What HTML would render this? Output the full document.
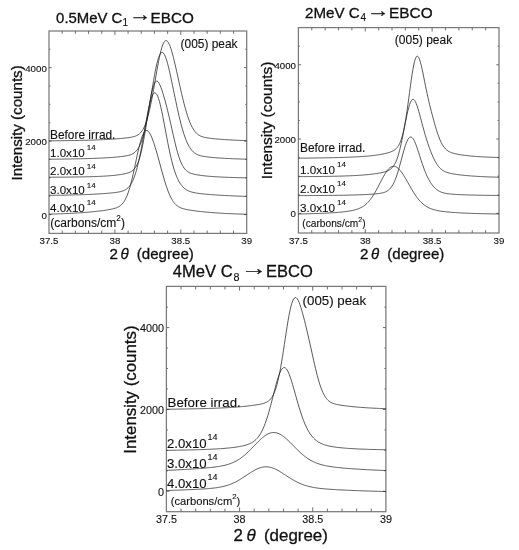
<!DOCTYPE html>
<html><head><meta charset="utf-8"><title>XRD (005) peak</title>
<style>
html,body{margin:0;padding:0;background:#fff;}
body{width:519px;height:550px;overflow:hidden;}
svg{display:block;font-family:"Liberation Sans",sans-serif;fill:#111;}
text{stroke:#111;stroke-width:0.12;}
.b{stroke-width:0.3;}
.f{fill:none;stroke:#7a7a7a;stroke-width:1.25;}
.t{fill:none;stroke:#666;stroke-width:0.95;}
.ar{stroke:#111;stroke-width:0.25;}
.c{fill:none;stroke:#222;stroke-width:0.75;stroke-linejoin:round;}
</style></head><body>
<svg width="519" height="550" viewBox="0 0 519 550">
<rect width="519" height="550" fill="#fff"/>
<rect class="f" x="49.00" y="31.00" width="197.70" height="202.40"/>
<path class="t" d="M62.18 233.40v-2.80M62.18 31.00v2.80M75.36 233.40v-2.80M75.36 31.00v2.80M88.54 233.40v-2.80M88.54 31.00v2.80M101.72 233.40v-2.80M101.72 31.00v2.80M114.90 233.40v-3.90M114.90 31.00v3.90M128.08 233.40v-2.80M128.08 31.00v2.80M141.26 233.40v-2.80M141.26 31.00v2.80M154.44 233.40v-2.80M154.44 31.00v2.80M167.62 233.40v-2.80M167.62 31.00v2.80M180.80 233.40v-3.90M180.80 31.00v3.90M193.98 233.40v-2.80M193.98 31.00v2.80M207.16 233.40v-2.80M207.16 31.00v2.80M220.34 233.40v-2.80M220.34 31.00v2.80M233.52 233.40v-2.80M233.52 31.00v2.80M49.00 214.60h2.70M246.70 214.60h-2.70M49.00 196.22h1.40M246.70 196.22h-1.40M49.00 177.85h1.40M246.70 177.85h-1.40M49.00 159.47h1.40M246.70 159.47h-1.40M49.00 141.10h2.70M246.70 141.10h-2.70M49.00 122.72h1.40M246.70 122.72h-1.40M49.00 104.35h1.40M246.70 104.35h-1.40M49.00 85.97h1.40M246.70 85.97h-1.40M49.00 67.60h2.70M246.70 67.60h-2.70M49.00 49.22h1.40M246.70 49.22h-1.40"/>
<polyline class="c" points="49.00,140.84 49.82,140.83 50.65,140.82 51.47,140.82 52.30,140.81 53.12,140.80 53.94,140.79 54.77,140.79 55.59,140.78 56.41,140.77 57.24,140.76 58.06,140.75 58.88,140.74 59.71,140.73 60.53,140.72 61.36,140.72 62.18,140.71 63.00,140.70 63.83,140.68 64.65,140.67 65.47,140.66 66.30,140.65 67.12,140.64 67.95,140.63 68.77,140.62 69.59,140.60 70.42,140.59 71.24,140.58 72.06,140.56 72.89,140.55 73.71,140.54 74.54,140.52 75.36,140.51 76.18,140.49 77.01,140.48 77.83,140.46 78.66,140.44 79.48,140.43 80.30,140.41 81.13,140.39 81.95,140.37 82.77,140.35 83.60,140.33 84.42,140.31 85.25,140.29 86.07,140.27 86.89,140.25 87.72,140.23 88.54,140.20 89.36,140.18 90.19,140.15 91.01,140.13 91.84,140.10 92.66,140.08 93.48,140.05 94.31,140.02 95.13,139.99 95.95,139.96 96.78,139.93 97.60,139.90 98.42,139.87 99.25,139.84 100.07,139.80 100.90,139.77 101.72,139.73 102.54,139.69 103.37,139.65 104.19,139.61 105.01,139.57 105.84,139.53 106.66,139.49 107.49,139.44 108.31,139.40 109.13,139.35 109.96,139.30 110.78,139.25 111.60,139.20 112.43,139.14 113.25,139.09 114.08,139.03 114.90,138.97 115.72,138.91 116.55,138.85 117.37,138.79 118.19,138.72 119.02,138.65 119.84,138.58 120.67,138.51 121.49,138.43 122.31,138.36 123.14,138.28 123.96,138.19 124.78,138.11 125.61,138.01 126.43,137.92 127.26,137.82 128.08,137.71 128.90,137.60 129.73,137.48 130.55,137.34 131.38,137.20 132.20,137.03 133.02,136.85 133.85,136.63 134.67,136.39 135.49,136.10 136.32,135.76 137.14,135.36 137.96,134.89 138.79,134.32 139.61,133.65 140.44,132.86 141.26,131.93 142.08,130.83 142.91,129.55 143.73,128.06 144.56,126.34 145.38,124.38 146.20,122.14 147.03,119.63 147.85,116.82 148.67,113.72 149.50,110.31 150.32,106.62 151.14,102.66 151.97,98.45 152.79,94.03 153.62,89.44 154.44,84.73 155.26,79.96 156.09,75.18 156.91,70.48 157.73,65.91 158.56,61.54 159.38,57.46 160.21,53.70 161.03,50.35 161.85,47.44 162.68,45.01 163.50,43.10 164.32,41.71 165.15,40.87 165.97,40.57 166.80,40.78 167.62,41.49 168.44,42.68 169.27,44.29 170.09,46.30 170.91,48.66 171.74,51.33 172.56,54.26 173.39,57.41 174.21,60.75 175.03,64.22 175.86,67.81 176.68,71.47 177.50,75.18 178.33,78.91 179.15,82.64 179.98,86.35 180.80,90.00 181.62,93.59 182.45,97.08 183.27,100.48 184.09,103.75 184.92,106.89 185.74,109.88 186.57,112.70 187.39,115.36 188.21,117.84 189.04,120.14 189.86,122.26 190.69,124.19 191.51,125.95 192.33,127.54 193.16,128.96 193.98,130.22 194.80,131.34 195.63,132.32 196.45,133.18 197.28,133.92 198.10,134.57 198.92,135.13 199.75,135.61 200.57,136.02 201.39,136.38 202.22,136.68 203.04,136.95 203.86,137.18 204.69,137.39 205.51,137.56 206.34,137.72 207.16,137.87 207.98,138.00 208.81,138.12 209.63,138.23 210.45,138.33 211.28,138.43 212.10,138.52 212.93,138.61 213.75,138.70 214.57,138.78 215.40,138.86 216.22,138.93 217.04,139.01 217.87,139.08 218.69,139.15 219.52,139.21 220.34,139.28 221.16,139.34 221.99,139.40 222.81,139.46 223.63,139.52 224.46,139.58 225.28,139.63 226.11,139.69 226.93,139.74 227.75,139.79 228.58,139.84 229.40,139.89 230.22,139.93 231.05,139.98 231.87,140.02 232.70,140.07 233.52,140.11 234.34,140.15 235.17,140.19 235.99,140.23 236.81,140.27 237.64,140.30 238.46,140.34 239.29,140.37 240.11,140.41 240.93,140.44 241.76,140.47 242.58,140.51 243.41,140.54 244.23,140.57 245.05,140.60 245.88,140.63 246.70,140.66"/>
<polyline class="c" points="49.00,159.20 49.82,159.19 50.65,159.19 51.47,159.18 52.30,159.17 53.12,159.16 53.94,159.16 54.77,159.15 55.59,159.14 56.41,159.13 57.24,159.12 58.06,159.12 58.88,159.11 59.71,159.10 60.53,159.09 61.36,159.08 62.18,159.07 63.00,159.06 63.83,159.05 64.65,159.04 65.47,159.03 66.30,159.02 67.12,159.01 67.95,158.99 68.77,158.98 69.59,158.97 70.42,158.96 71.24,158.94 72.06,158.93 72.89,158.92 73.71,158.90 74.54,158.89 75.36,158.87 76.18,158.86 77.01,158.84 77.83,158.82 78.66,158.81 79.48,158.79 80.30,158.77 81.13,158.75 81.95,158.73 82.77,158.71 83.60,158.69 84.42,158.67 85.25,158.65 86.07,158.63 86.89,158.61 87.72,158.58 88.54,158.56 89.36,158.53 90.19,158.51 91.01,158.48 91.84,158.45 92.66,158.43 93.48,158.40 94.31,158.37 95.13,158.34 95.95,158.30 96.78,158.27 97.60,158.24 98.42,158.20 99.25,158.17 100.07,158.13 100.90,158.09 101.72,158.05 102.54,158.01 103.37,157.97 104.19,157.92 105.01,157.88 105.84,157.83 106.66,157.78 107.49,157.73 108.31,157.68 109.13,157.62 109.96,157.57 110.78,157.51 111.60,157.45 112.43,157.39 113.25,157.33 114.08,157.26 114.90,157.19 115.72,157.12 116.55,157.05 117.37,156.97 118.19,156.89 119.02,156.81 119.84,156.72 120.67,156.63 121.49,156.53 122.31,156.43 123.14,156.32 123.96,156.21 124.78,156.09 125.61,155.95 126.43,155.81 127.26,155.64 128.08,155.46 128.90,155.25 129.73,155.02 130.55,154.74 131.38,154.42 132.20,154.05 133.02,153.61 133.85,153.09 134.67,152.48 135.49,151.76 136.32,150.91 137.14,149.91 137.96,148.73 138.79,147.37 139.61,145.79 140.44,143.98 141.26,141.91 142.08,139.56 142.91,136.93 143.73,133.99 144.56,130.74 145.38,127.18 146.20,123.32 147.03,119.18 147.85,114.77 148.67,110.14 149.50,105.32 150.32,100.36 151.14,95.32 151.97,90.27 152.79,85.27 153.62,80.40 154.44,75.72 155.26,71.31 156.09,67.24 156.91,63.57 157.73,60.36 158.56,57.66 159.38,55.49 160.21,53.89 161.03,52.87 161.85,52.43 162.68,52.55 163.50,53.23 164.32,54.44 165.15,56.12 165.97,58.25 166.80,60.78 167.62,63.66 168.44,66.83 169.27,70.26 170.09,73.88 170.91,77.66 171.74,81.55 172.56,85.52 173.39,89.53 174.21,93.55 175.03,97.54 175.86,101.49 176.68,105.38 177.50,109.17 178.33,112.85 179.15,116.42 179.98,119.84 180.80,123.12 181.62,126.24 182.45,129.19 183.27,131.96 184.09,134.55 184.92,136.96 185.74,139.19 186.57,141.23 187.39,143.10 188.21,144.79 189.04,146.31 189.86,147.68 190.69,148.89 191.51,149.97 192.33,150.92 193.16,151.75 193.98,152.48 194.80,153.11 195.63,153.66 196.45,154.14 197.28,154.55 198.10,154.90 198.92,155.21 199.75,155.48 200.57,155.72 201.39,155.93 202.22,156.11 203.04,156.28 203.86,156.43 204.69,156.56 205.51,156.68 206.34,156.80 207.16,156.90 207.98,157.00 208.81,157.10 209.63,157.18 210.45,157.27 211.28,157.35 212.10,157.43 212.93,157.50 213.75,157.57 214.57,157.64 215.40,157.71 216.22,157.77 217.04,157.84 217.87,157.90 218.69,157.96 219.52,158.01 220.34,158.07 221.16,158.12 221.99,158.17 222.81,158.22 223.63,158.27 224.46,158.32 225.28,158.36 226.11,158.41 226.93,158.45 227.75,158.49 228.58,158.53 229.40,158.57 230.22,158.61 231.05,158.65 231.87,158.69 232.70,158.72 233.52,158.76 234.34,158.79 235.17,158.82 235.99,158.85 236.81,158.88 237.64,158.91 238.46,158.94 239.29,158.97 240.11,159.00 240.93,159.03 241.76,159.05 242.58,159.08 243.41,159.11 244.23,159.13 245.05,159.15 245.88,159.18 246.70,159.20"/>
<polyline class="c" points="49.00,177.22 49.82,177.21 50.65,177.21 51.47,177.21 52.30,177.20 53.12,177.20 53.94,177.20 54.77,177.19 55.59,177.19 56.41,177.18 57.24,177.18 58.06,177.17 58.88,177.17 59.71,177.16 60.53,177.15 61.36,177.15 62.18,177.14 63.00,177.14 63.83,177.13 64.65,177.12 65.47,177.11 66.30,177.11 67.12,177.10 67.95,177.09 68.77,177.08 69.59,177.07 70.42,177.06 71.24,177.05 72.06,177.04 72.89,177.03 73.71,177.02 74.54,177.01 75.36,177.00 76.18,176.99 77.01,176.98 77.83,176.96 78.66,176.95 79.48,176.94 80.30,176.92 81.13,176.91 81.95,176.89 82.77,176.87 83.60,176.86 84.42,176.84 85.25,176.82 86.07,176.80 86.89,176.78 87.72,176.76 88.54,176.74 89.36,176.72 90.19,176.70 91.01,176.67 91.84,176.65 92.66,176.62 93.48,176.59 94.31,176.57 95.13,176.54 95.95,176.51 96.78,176.47 97.60,176.44 98.42,176.41 99.25,176.37 100.07,176.33 100.90,176.29 101.72,176.25 102.54,176.21 103.37,176.17 104.19,176.12 105.01,176.07 105.84,176.02 106.66,175.97 107.49,175.91 108.31,175.85 109.13,175.79 109.96,175.73 110.78,175.66 111.60,175.59 112.43,175.52 113.25,175.44 114.08,175.36 114.90,175.27 115.72,175.19 116.55,175.09 117.37,174.99 118.19,174.89 119.02,174.78 119.84,174.66 120.67,174.54 121.49,174.41 122.31,174.27 123.14,174.12 123.96,173.96 124.78,173.79 125.61,173.60 126.43,173.39 127.26,173.16 128.08,172.90 128.90,172.61 129.73,172.27 130.55,171.88 131.38,171.41 132.20,170.87 133.02,170.21 133.85,169.43 134.67,168.50 135.49,167.38 136.32,166.05 137.14,164.48 137.96,162.62 138.79,160.45 139.61,157.94 140.44,155.07 141.26,151.82 142.08,148.18 142.91,144.17 143.73,139.79 144.56,135.10 145.38,130.15 146.20,124.99 147.03,119.72 147.85,114.43 148.67,109.22 149.50,104.20 150.32,99.48 151.14,95.15 151.97,91.31 152.79,88.02 153.62,85.35 154.44,83.32 155.26,81.94 156.09,81.20 156.91,81.07 157.73,81.51 158.56,82.45 159.38,83.83 160.21,85.59 161.03,87.65 161.85,89.98 162.68,92.50 163.50,95.20 164.32,98.04 165.15,101.00 165.97,104.08 166.80,107.27 167.62,110.56 168.44,113.96 169.27,117.46 170.09,121.03 170.91,124.67 171.74,128.34 172.56,132.03 173.39,135.68 174.21,139.28 175.03,142.77 175.86,146.12 176.68,149.31 177.50,152.30 178.33,155.08 179.15,157.62 179.98,159.93 180.80,162.00 181.62,163.84 182.45,165.46 183.27,166.87 184.09,168.08 184.92,169.13 185.74,170.02 186.57,170.78 187.39,171.43 188.21,171.98 189.04,172.45 189.86,172.85 190.69,173.19 191.51,173.49 192.33,173.75 193.16,173.98 193.98,174.19 194.80,174.38 195.63,174.55 196.45,174.71 197.28,174.86 198.10,174.99 198.92,175.12 199.75,175.24 200.57,175.36 201.39,175.47 202.22,175.57 203.04,175.67 203.86,175.76 204.69,175.85 205.51,175.94 206.34,176.02 207.16,176.10 207.98,176.17 208.81,176.24 209.63,176.31 210.45,176.38 211.28,176.44 212.10,176.50 212.93,176.56 213.75,176.62 214.57,176.67 215.40,176.73 216.22,176.78 217.04,176.82 217.87,176.87 218.69,176.92 219.52,176.96 220.34,177.00 221.16,177.04 221.99,177.08 222.81,177.12 223.63,177.16 224.46,177.19 225.28,177.23 226.11,177.26 226.93,177.29 227.75,177.33 228.58,177.36 229.40,177.39 230.22,177.42 231.05,177.44 231.87,177.47 232.70,177.50 233.52,177.52 234.34,177.55 235.17,177.57 235.99,177.60 236.81,177.62 237.64,177.64 238.46,177.67 239.29,177.69 240.11,177.71 240.93,177.73 241.76,177.75 242.58,177.77 243.41,177.79 244.23,177.81 245.05,177.82 245.88,177.84 246.70,177.86"/>
<polyline class="c" points="49.00,195.34 49.82,195.34 50.65,195.33 51.47,195.32 52.30,195.31 53.12,195.30 53.94,195.29 54.77,195.28 55.59,195.27 56.41,195.26 57.24,195.25 58.06,195.24 58.88,195.22 59.71,195.21 60.53,195.20 61.36,195.19 62.18,195.17 63.00,195.16 63.83,195.14 64.65,195.13 65.47,195.11 66.30,195.10 67.12,195.08 67.95,195.06 68.77,195.05 69.59,195.03 70.42,195.01 71.24,194.99 72.06,194.97 72.89,194.95 73.71,194.93 74.54,194.91 75.36,194.89 76.18,194.87 77.01,194.84 77.83,194.82 78.66,194.80 79.48,194.77 80.30,194.75 81.13,194.72 81.95,194.69 82.77,194.66 83.60,194.63 84.42,194.60 85.25,194.57 86.07,194.54 86.89,194.51 87.72,194.47 88.54,194.44 89.36,194.40 90.19,194.37 91.01,194.33 91.84,194.29 92.66,194.25 93.48,194.21 94.31,194.17 95.13,194.12 95.95,194.08 96.78,194.03 97.60,193.98 98.42,193.93 99.25,193.88 100.07,193.83 100.90,193.78 101.72,193.72 102.54,193.67 103.37,193.61 104.19,193.55 105.01,193.49 105.84,193.42 106.66,193.36 107.49,193.29 108.31,193.22 109.13,193.15 109.96,193.08 110.78,193.00 111.60,192.92 112.43,192.83 113.25,192.75 114.08,192.66 114.90,192.56 115.72,192.45 116.55,192.34 117.37,192.22 118.19,192.09 119.02,191.94 119.84,191.77 120.67,191.58 121.49,191.37 122.31,191.12 123.14,190.83 123.96,190.50 124.78,190.11 125.61,189.65 126.43,189.11 127.26,188.48 128.08,187.74 128.90,186.88 129.73,185.88 130.55,184.72 131.38,183.38 132.20,181.85 133.02,180.10 133.85,178.13 134.67,175.91 135.49,173.43 136.32,170.69 137.14,167.67 137.96,164.38 138.79,160.83 139.61,157.02 140.44,152.97 141.26,148.71 142.08,144.27 142.91,139.69 143.73,135.02 144.56,130.31 145.38,125.61 146.20,121.00 147.03,116.53 147.85,112.27 148.67,108.29 149.50,104.65 150.32,101.42 151.14,98.63 151.97,96.36 152.79,94.62 153.62,93.45 154.44,92.87 155.26,92.88 156.09,93.49 156.91,94.66 157.73,96.39 158.56,98.63 159.38,101.33 160.21,104.46 161.03,107.95 161.85,111.75 162.68,115.78 163.50,120.00 164.32,124.34 165.15,128.74 165.97,133.15 166.80,137.52 167.62,141.80 168.44,145.96 169.27,149.97 170.09,153.80 170.91,157.42 171.74,160.84 172.56,164.03 173.39,166.99 174.21,169.73 175.03,172.24 175.86,174.54 176.68,176.63 177.50,178.53 178.33,180.24 179.15,181.78 179.98,183.15 180.80,184.38 181.62,185.48 182.45,186.45 183.27,187.32 184.09,188.08 184.92,188.76 185.74,189.36 186.57,189.88 187.39,190.35 188.21,190.76 189.04,191.12 189.86,191.45 190.69,191.73 191.51,191.99 192.33,192.21 193.16,192.42 193.98,192.60 194.80,192.77 195.63,192.92 196.45,193.06 197.28,193.19 198.10,193.31 198.92,193.43 199.75,193.53 200.57,193.63 201.39,193.73 202.22,193.82 203.04,193.90 203.86,193.99 204.69,194.07 205.51,194.15 206.34,194.22 207.16,194.29 207.98,194.37 208.81,194.44 209.63,194.50 210.45,194.57 211.28,194.63 212.10,194.70 212.93,194.76 213.75,194.82 214.57,194.88 215.40,194.93 216.22,194.99 217.04,195.04 217.87,195.10 218.69,195.15 219.52,195.20 220.34,195.25 221.16,195.30 221.99,195.35 222.81,195.39 223.63,195.44 224.46,195.48 225.28,195.53 226.11,195.57 226.93,195.61 227.75,195.65 228.58,195.69 229.40,195.73 230.22,195.77 231.05,195.81 231.87,195.85 232.70,195.88 233.52,195.92 234.34,195.95 235.17,195.99 235.99,196.02 236.81,196.05 237.64,196.08 238.46,196.12 239.29,196.15 240.11,196.18 240.93,196.21 241.76,196.24 242.58,196.27 243.41,196.29 244.23,196.32 245.05,196.35 245.88,196.38 246.70,196.40"/>
<polyline class="c" points="49.00,214.15 49.82,214.12 50.65,214.10 51.47,214.08 52.30,214.05 53.12,214.03 53.94,214.00 54.77,213.98 55.59,213.95 56.41,213.92 57.24,213.90 58.06,213.87 58.88,213.84 59.71,213.81 60.53,213.78 61.36,213.75 62.18,213.72 63.00,213.68 63.83,213.65 64.65,213.62 65.47,213.58 66.30,213.55 67.12,213.51 67.95,213.47 68.77,213.43 69.59,213.39 70.42,213.35 71.24,213.31 72.06,213.27 72.89,213.23 73.71,213.18 74.54,213.14 75.36,213.09 76.18,213.04 77.01,212.99 77.83,212.94 78.66,212.89 79.48,212.84 80.30,212.78 81.13,212.73 81.95,212.67 82.77,212.61 83.60,212.55 84.42,212.49 85.25,212.43 86.07,212.36 86.89,212.29 87.72,212.22 88.54,212.15 89.36,212.08 90.19,212.01 91.01,211.93 91.84,211.85 92.66,211.77 93.48,211.69 94.31,211.60 95.13,211.51 95.95,211.42 96.78,211.33 97.60,211.24 98.42,211.14 99.25,211.04 100.07,210.94 100.90,210.83 101.72,210.72 102.54,210.61 103.37,210.50 104.19,210.38 105.01,210.26 105.84,210.14 106.66,210.01 107.49,209.88 108.31,209.74 109.13,209.60 109.96,209.45 110.78,209.29 111.60,209.12 112.43,208.94 113.25,208.75 114.08,208.54 114.90,208.30 115.72,208.04 116.55,207.74 117.37,207.40 118.19,207.01 119.02,206.56 119.84,206.03 120.67,205.41 121.49,204.68 122.31,203.84 123.14,202.85 123.96,201.70 124.78,200.37 125.61,198.85 126.43,197.11 127.26,195.15 128.08,192.95 128.90,190.50 129.73,187.80 130.55,184.87 131.38,181.70 132.20,178.32 133.02,174.75 133.85,171.04 134.67,167.21 135.49,163.32 136.32,159.42 137.14,155.57 137.96,151.82 138.79,148.23 139.61,144.87 140.44,141.77 141.26,138.99 142.08,136.56 142.91,134.52 143.73,132.89 144.56,131.68 145.38,130.89 146.20,130.52 147.03,130.55 147.85,130.97 148.67,131.75 149.50,132.86 150.32,134.28 151.14,135.96 151.97,137.90 152.79,140.04 153.62,142.37 154.44,144.86 155.26,147.49 156.09,150.24 156.91,153.08 157.73,156.00 158.56,158.97 159.38,161.99 160.21,165.02 161.03,168.05 161.85,171.06 162.68,174.03 163.50,176.93 164.32,179.76 165.15,182.48 165.97,185.09 166.80,187.56 167.62,189.89 168.44,192.07 169.27,194.09 170.09,195.94 170.91,197.63 171.74,199.16 172.56,200.54 173.39,201.76 174.21,202.85 175.03,203.81 175.86,204.65 176.68,205.38 177.50,206.02 178.33,206.58 179.15,207.06 179.98,207.48 180.80,207.85 181.62,208.17 182.45,208.45 183.27,208.71 184.09,208.93 184.92,209.14 185.74,209.33 186.57,209.50 187.39,209.66 188.21,209.82 189.04,209.96 189.86,210.10 190.69,210.23 191.51,210.36 192.33,210.48 193.16,210.60 193.98,210.71 194.80,210.83 195.63,210.93 196.45,211.04 197.28,211.14 198.10,211.24 198.92,211.34 199.75,211.43 200.57,211.53 201.39,211.62 202.22,211.70 203.04,211.79 203.86,211.87 204.69,211.95 205.51,212.03 206.34,212.11 207.16,212.19 207.98,212.26 208.81,212.33 209.63,212.40 210.45,212.47 211.28,212.53 212.10,212.60 212.93,212.66 213.75,212.72 214.57,212.78 215.40,212.84 216.22,212.89 217.04,212.95 217.87,213.00 218.69,213.05 219.52,213.11 220.34,213.16 221.16,213.20 221.99,213.25 222.81,213.30 223.63,213.34 224.46,213.39 225.28,213.43 226.11,213.47 226.93,213.51 227.75,213.55 228.58,213.59 229.40,213.63 230.22,213.67 231.05,213.70 231.87,213.74 232.70,213.77 233.52,213.81 234.34,213.84 235.17,213.87 235.99,213.91 236.81,213.94 237.64,213.97 238.46,214.00 239.29,214.03 240.11,214.05 240.93,214.08 241.76,214.11 242.58,214.14 243.41,214.16 244.23,214.19 245.05,214.21 245.88,214.24 246.70,214.26"/>
<text x="46.8" y="218.5" font-size="9.7" text-anchor="end">0</text>
<text x="46.8" y="145.0" font-size="9.7" text-anchor="end">2000</text>
<text x="46.8" y="71.5" font-size="9.7" text-anchor="end">4000</text>
<text x="49.0" y="244.3" font-size="9.7" text-anchor="middle">37.5</text>
<text x="114.9" y="244.3" font-size="9.7" text-anchor="middle">38</text>
<text x="180.8" y="244.3" font-size="9.7" text-anchor="middle">38.5</text>
<text x="246.7" y="244.3" font-size="9.7" text-anchor="middle">39</text>
<text x="56.1" y="22.8" font-size="14.6" textLength="66.3" lengthAdjust="spacingAndGlyphs" class="b">0.5MeV C</text><text x="122.4" y="25.8" font-size="10.0">1</text><text class="ar" transform="translate(140.15 21.10) scale(1.181 1)" font-size="19.0" text-anchor="middle">→</text><text x="150.6" y="22.8" font-size="14.6" textLength="43.2" lengthAdjust="spacingAndGlyphs" class="b">EBCO</text>
<text x="180.6" y="47.8" font-size="11.9">(005) peak</text>
<text x="50.0" y="138.8" font-size="11.9">Before irrad.</text>
<text x="50.0" y="156.8" font-size="11.6">1.0x10<tspan font-size="8.0" dx="2.0" dy="-6.6">14</tspan></text>
<text x="50.0" y="175.4" font-size="11.6">2.0x10<tspan font-size="8.0" dx="2.0" dy="-6.6">14</tspan></text>
<text x="50.0" y="194.1" font-size="11.6">3.0x10<tspan font-size="8.0" dx="2.0" dy="-6.6">14</tspan></text>
<text x="50.0" y="212.0" font-size="11.6">4.0x10<tspan font-size="8.0" dx="2.0" dy="-6.6">14</tspan></text>
<text x="50.3" y="226.8" font-size="12.0">(carbons/cm<tspan font-size="8.2" dy="-6.0">2</tspan><tspan font-size="12.0" dy="6.0">)</tspan></text>
<text class="b" transform="translate(22.1 122.9) rotate(-90)" font-size="15.0" text-anchor="middle" textLength="115.2" lengthAdjust="spacingAndGlyphs">Intensity (counts)</text>
<text class="b" y="258.9" font-size="15.1"><tspan x="109.4">2</tspan><tspan x="120.4" font-style="italic">θ</tspan><tspan x="136.8">(degree)</tspan></text>
<rect class="f" x="298.40" y="27.60" width="200.60" height="205.40"/>
<path class="t" d="M311.77 233.00v-2.80M311.77 27.60v2.80M325.15 233.00v-2.80M325.15 27.60v2.80M338.52 233.00v-2.80M338.52 27.60v2.80M351.89 233.00v-2.80M351.89 27.60v2.80M365.27 233.00v-3.90M365.27 27.60v3.90M378.64 233.00v-2.80M378.64 27.60v2.80M392.01 233.00v-2.80M392.01 27.60v2.80M405.39 233.00v-2.80M405.39 27.60v2.80M418.76 233.00v-2.80M418.76 27.60v2.80M432.13 233.00v-3.90M432.13 27.60v3.90M445.51 233.00v-2.80M445.51 27.60v2.80M458.88 233.00v-2.80M458.88 27.60v2.80M472.25 233.00v-2.80M472.25 27.60v2.80M485.63 233.00v-2.80M485.63 27.60v2.80M298.40 213.33h2.70M499.00 213.33h-2.70M298.40 194.76h1.40M499.00 194.76h-1.40M298.40 176.19h1.40M499.00 176.19h-1.40M298.40 157.61h1.40M499.00 157.61h-1.40M298.40 139.04h2.70M499.00 139.04h-2.70M298.40 120.47h1.40M499.00 120.47h-1.40M298.40 101.90h1.40M499.00 101.90h-1.40M298.40 83.32h1.40M499.00 83.32h-1.40M298.40 64.75h2.70M499.00 64.75h-2.70M298.40 46.18h1.40M499.00 46.18h-1.40"/>
<polyline class="c" points="298.40,158.17 299.24,158.16 300.07,158.15 300.91,158.15 301.74,158.14 302.58,158.13 303.41,158.12 304.25,158.12 305.09,158.11 305.92,158.10 306.76,158.09 307.59,158.08 308.43,158.07 309.27,158.06 310.10,158.05 310.94,158.04 311.77,158.03 312.61,158.02 313.44,158.01 314.28,158.00 315.12,157.99 315.95,157.98 316.79,157.97 317.62,157.96 318.46,157.95 319.30,157.93 320.13,157.92 320.97,157.91 321.80,157.90 322.64,157.88 323.47,157.87 324.31,157.85 325.15,157.84 325.98,157.82 326.82,157.81 327.65,157.79 328.49,157.78 329.33,157.76 330.16,157.74 331.00,157.73 331.83,157.71 332.67,157.69 333.50,157.67 334.34,157.65 335.18,157.63 336.01,157.61 336.85,157.59 337.68,157.57 338.52,157.55 339.36,157.52 340.19,157.50 341.03,157.48 341.86,157.45 342.70,157.43 343.53,157.40 344.37,157.37 345.21,157.34 346.04,157.31 346.88,157.28 347.71,157.25 348.55,157.22 349.39,157.19 350.22,157.15 351.06,157.12 351.89,157.08 352.73,157.04 353.56,157.00 354.40,156.96 355.24,156.92 356.07,156.88 356.91,156.83 357.74,156.79 358.58,156.74 359.42,156.69 360.25,156.64 361.09,156.58 361.92,156.53 362.76,156.47 363.59,156.41 364.43,156.34 365.27,156.28 366.10,156.21 366.94,156.14 367.77,156.07 368.61,155.99 369.45,155.91 370.28,155.83 371.12,155.74 371.95,155.65 372.79,155.55 373.62,155.46 374.46,155.35 375.30,155.25 376.13,155.13 376.97,155.01 377.80,154.89 378.64,154.76 379.48,154.63 380.31,154.49 381.15,154.34 381.98,154.18 382.82,154.02 383.65,153.85 384.49,153.67 385.33,153.48 386.16,153.27 387.00,153.06 387.83,152.84 388.67,152.59 389.51,152.33 390.34,152.05 391.18,151.73 392.01,151.38 392.85,150.99 393.69,150.53 394.52,150.00 395.36,149.37 396.19,148.62 397.03,147.71 397.86,146.62 398.70,145.30 399.54,143.71 400.37,141.79 401.21,139.51 402.04,136.82 402.88,133.66 403.71,130.03 404.55,125.89 405.39,121.26 406.22,116.15 407.06,110.61 407.89,104.73 408.73,98.61 409.57,92.36 410.40,86.15 411.24,80.14 412.07,74.48 412.91,69.36 413.75,64.93 414.58,61.30 415.42,58.59 416.25,56.86 417.09,56.12 417.92,56.36 418.76,57.52 419.60,59.51 420.43,62.20 421.27,65.46 422.10,69.15 422.94,73.13 423.77,77.28 424.61,81.49 425.45,85.66 426.28,89.74 427.12,93.70 427.95,97.51 428.79,101.16 429.63,104.69 430.46,108.09 431.30,111.38 432.13,114.59 432.97,117.72 433.81,120.77 434.64,123.74 435.48,126.62 436.31,129.38 437.15,132.03 437.98,134.52 438.82,136.85 439.66,139.00 440.49,140.97 441.33,142.74 442.16,144.33 443.00,145.73 443.83,146.95 444.67,148.02 445.51,148.93 446.34,149.72 447.18,150.40 448.01,150.98 448.85,151.47 449.69,151.90 450.52,152.27 451.36,152.60 452.19,152.89 453.03,153.14 453.87,153.38 454.70,153.59 455.54,153.79 456.37,153.97 457.21,154.15 458.04,154.31 458.88,154.46 459.72,154.61 460.55,154.74 461.39,154.87 462.22,155.00 463.06,155.12 463.89,155.23 464.73,155.34 465.57,155.45 466.40,155.55 467.24,155.64 468.07,155.73 468.91,155.82 469.75,155.91 470.58,155.99 471.42,156.07 472.25,156.14 473.09,156.21 473.93,156.28 474.76,156.35 475.60,156.41 476.43,156.47 477.27,156.53 478.10,156.59 478.94,156.64 479.78,156.69 480.61,156.74 481.45,156.79 482.28,156.84 483.12,156.88 483.95,156.93 484.79,156.97 485.63,157.01 486.46,157.05 487.30,157.09 488.13,157.13 488.97,157.16 489.81,157.20 490.64,157.23 491.48,157.26 492.31,157.29 493.15,157.32 493.99,157.35 494.82,157.38 495.66,157.41 496.49,157.44 497.33,157.46 498.16,157.49 499.00,157.51"/>
<polyline class="c" points="298.40,176.64 299.24,176.64 300.07,176.63 300.91,176.63 301.74,176.63 302.58,176.62 303.41,176.62 304.25,176.61 305.09,176.61 305.92,176.60 306.76,176.60 307.59,176.59 308.43,176.59 309.27,176.58 310.10,176.58 310.94,176.57 311.77,176.56 312.61,176.56 313.44,176.55 314.28,176.54 315.12,176.53 315.95,176.53 316.79,176.52 317.62,176.51 318.46,176.50 319.30,176.49 320.13,176.48 320.97,176.47 321.80,176.46 322.64,176.45 323.47,176.44 324.31,176.43 325.15,176.42 325.98,176.41 326.82,176.39 327.65,176.38 328.49,176.37 329.33,176.35 330.16,176.34 331.00,176.32 331.83,176.31 332.67,176.29 333.50,176.27 334.34,176.26 335.18,176.24 336.01,176.22 336.85,176.20 337.68,176.18 338.52,176.16 339.36,176.14 340.19,176.11 341.03,176.09 341.86,176.07 342.70,176.04 343.53,176.02 344.37,175.99 345.21,175.96 346.04,175.93 346.88,175.90 347.71,175.87 348.55,175.84 349.39,175.81 350.22,175.77 351.06,175.74 351.89,175.70 352.73,175.66 353.56,175.62 354.40,175.58 355.24,175.53 356.07,175.49 356.91,175.44 357.74,175.39 358.58,175.34 359.42,175.29 360.25,175.23 361.09,175.18 361.92,175.12 362.76,175.05 363.59,174.99 364.43,174.92 365.27,174.85 366.10,174.78 366.94,174.70 367.77,174.62 368.61,174.54 369.45,174.45 370.28,174.36 371.12,174.27 371.95,174.17 372.79,174.07 373.62,173.96 374.46,173.85 375.30,173.73 376.13,173.61 376.97,173.48 377.80,173.35 378.64,173.21 379.48,173.06 380.31,172.91 381.15,172.74 381.98,172.57 382.82,172.38 383.65,172.18 384.49,171.95 385.33,171.71 386.16,171.44 387.00,171.13 387.83,170.77 388.67,170.36 389.51,169.88 390.34,169.32 391.18,168.64 392.01,167.84 392.85,166.89 393.69,165.76 394.52,164.42 395.36,162.85 396.19,161.02 397.03,158.90 397.86,156.47 398.70,153.73 399.54,150.67 400.37,147.30 401.21,143.64 402.04,139.72 402.88,135.59 403.71,131.31 404.55,126.97 405.39,122.64 406.22,118.43 407.06,114.43 407.89,110.73 408.73,107.44 409.57,104.63 410.40,102.37 411.24,100.71 412.07,99.68 412.91,99.29 413.75,99.53 414.58,100.36 415.42,101.73 416.25,103.59 417.09,105.85 417.92,108.44 418.76,111.27 419.60,114.28 420.43,117.40 421.27,120.56 422.10,123.71 422.94,126.82 423.77,129.87 424.61,132.82 425.45,135.68 426.28,138.44 427.12,141.09 427.95,143.63 428.79,146.08 429.63,148.43 430.46,150.67 431.30,152.81 432.13,154.85 432.97,156.77 433.81,158.57 434.64,160.26 435.48,161.82 436.31,163.26 437.15,164.57 437.98,165.75 438.82,166.82 439.66,167.77 440.49,168.61 441.33,169.35 442.16,169.99 443.00,170.56 443.83,171.06 444.67,171.49 445.51,171.87 446.34,172.20 447.18,172.49 448.01,172.75 448.85,172.98 449.69,173.20 450.52,173.39 451.36,173.57 452.19,173.73 453.03,173.88 453.87,174.03 454.70,174.16 455.54,174.29 456.37,174.42 457.21,174.53 458.04,174.65 458.88,174.75 459.72,174.86 460.55,174.96 461.39,175.05 462.22,175.15 463.06,175.24 463.89,175.32 464.73,175.40 465.57,175.48 466.40,175.56 467.24,175.63 468.07,175.71 468.91,175.77 469.75,175.84 470.58,175.91 471.42,175.97 472.25,176.03 473.09,176.09 473.93,176.14 474.76,176.20 475.60,176.25 476.43,176.30 477.27,176.35 478.10,176.40 478.94,176.45 479.78,176.49 480.61,176.54 481.45,176.58 482.28,176.62 483.12,176.66 483.95,176.70 484.79,176.74 485.63,176.77 486.46,176.81 487.30,176.85 488.13,176.88 488.97,176.91 489.81,176.95 490.64,176.98 491.48,177.01 492.31,177.04 493.15,177.07 493.99,177.10 494.82,177.12 495.66,177.15 496.49,177.18 497.33,177.20 498.16,177.23 499.00,177.25"/>
<polyline class="c" points="298.40,195.61 299.24,195.61 300.07,195.61 300.91,195.60 301.74,195.60 302.58,195.60 303.41,195.59 304.25,195.59 305.09,195.59 305.92,195.58 306.76,195.58 307.59,195.57 308.43,195.57 309.27,195.56 310.10,195.56 310.94,195.55 311.77,195.55 312.61,195.54 313.44,195.54 314.28,195.53 315.12,195.53 315.95,195.52 316.79,195.52 317.62,195.51 318.46,195.51 319.30,195.50 320.13,195.49 320.97,195.49 321.80,195.48 322.64,195.47 323.47,195.47 324.31,195.46 325.15,195.45 325.98,195.44 326.82,195.44 327.65,195.43 328.49,195.42 329.33,195.41 330.16,195.40 331.00,195.39 331.83,195.38 332.67,195.38 333.50,195.37 334.34,195.36 335.18,195.34 336.01,195.33 336.85,195.32 337.68,195.31 338.52,195.30 339.36,195.29 340.19,195.27 341.03,195.26 341.86,195.25 342.70,195.23 343.53,195.22 344.37,195.20 345.21,195.19 346.04,195.17 346.88,195.16 347.71,195.14 348.55,195.12 349.39,195.10 350.22,195.08 351.06,195.06 351.89,195.04 352.73,195.02 353.56,195.00 354.40,194.98 355.24,194.95 356.07,194.93 356.91,194.90 357.74,194.88 358.58,194.85 359.42,194.82 360.25,194.79 361.09,194.76 361.92,194.72 362.76,194.69 363.59,194.65 364.43,194.62 365.27,194.58 366.10,194.54 366.94,194.49 367.77,194.45 368.61,194.40 369.45,194.35 370.28,194.30 371.12,194.24 371.95,194.19 372.79,194.13 373.62,194.06 374.46,193.99 375.30,193.92 376.13,193.84 376.97,193.76 377.80,193.66 378.64,193.56 379.48,193.45 380.31,193.32 381.15,193.17 381.98,193.00 382.82,192.81 383.65,192.58 384.49,192.31 385.33,191.99 386.16,191.61 387.00,191.15 387.83,190.61 388.67,189.98 389.51,189.22 390.34,188.33 391.18,187.29 392.01,186.09 392.85,184.70 393.69,183.12 394.52,181.33 395.36,179.33 396.19,177.12 397.03,174.70 397.86,172.09 398.70,169.30 399.54,166.37 400.37,163.32 401.21,160.21 402.04,157.07 402.88,153.98 403.71,150.98 404.55,148.13 405.39,145.50 406.22,143.15 407.06,141.12 407.89,139.46 408.73,138.20 409.57,137.38 410.40,137.00 411.24,137.06 412.07,137.56 412.91,138.47 413.75,139.76 414.58,141.38 415.42,143.30 416.25,145.46 417.09,147.81 417.92,150.30 418.76,152.88 419.60,155.50 420.43,158.13 421.27,160.72 422.10,163.25 422.94,165.70 423.77,168.04 424.61,170.28 425.45,172.39 426.28,174.37 427.12,176.23 427.95,177.96 428.79,179.57 429.63,181.06 430.46,182.44 431.30,183.70 432.13,184.86 432.97,185.93 433.81,186.89 434.64,187.77 435.48,188.56 436.31,189.27 437.15,189.91 437.98,190.48 438.82,190.98 439.66,191.43 440.49,191.82 441.33,192.16 442.16,192.46 443.00,192.73 443.83,192.96 444.67,193.16 445.51,193.33 446.34,193.48 447.18,193.62 448.01,193.74 448.85,193.84 449.69,193.94 450.52,194.02 451.36,194.10 452.19,194.17 453.03,194.24 453.87,194.30 454.70,194.35 455.54,194.41 456.37,194.46 457.21,194.50 458.04,194.55 458.88,194.59 459.72,194.63 460.55,194.67 461.39,194.70 462.22,194.74 463.06,194.77 463.89,194.81 464.73,194.84 465.57,194.87 466.40,194.89 467.24,194.92 468.07,194.95 468.91,194.97 469.75,195.00 470.58,195.02 471.42,195.04 472.25,195.06 473.09,195.08 473.93,195.10 474.76,195.12 475.60,195.14 476.43,195.16 477.27,195.18 478.10,195.20 478.94,195.21 479.78,195.23 480.61,195.24 481.45,195.26 482.28,195.27 483.12,195.28 483.95,195.30 484.79,195.31 485.63,195.32 486.46,195.34 487.30,195.35 488.13,195.36 488.97,195.37 489.81,195.38 490.64,195.39 491.48,195.40 492.31,195.41 493.15,195.42 493.99,195.43 494.82,195.44 495.66,195.45 496.49,195.46 497.33,195.46 498.16,195.47 499.00,195.48"/>
<polyline class="c" points="298.40,214.01 299.24,213.99 300.07,213.97 300.91,213.96 301.74,213.94 302.58,213.92 303.41,213.90 304.25,213.88 305.09,213.86 305.92,213.84 306.76,213.82 307.59,213.80 308.43,213.78 309.27,213.75 310.10,213.73 310.94,213.71 311.77,213.68 312.61,213.66 313.44,213.63 314.28,213.60 315.12,213.57 315.95,213.55 316.79,213.52 317.62,213.49 318.46,213.46 319.30,213.42 320.13,213.39 320.97,213.36 321.80,213.32 322.64,213.29 323.47,213.25 324.31,213.21 325.15,213.17 325.98,213.13 326.82,213.09 327.65,213.04 328.49,213.00 329.33,212.95 330.16,212.90 331.00,212.85 331.83,212.80 332.67,212.74 333.50,212.69 334.34,212.63 335.18,212.57 336.01,212.51 336.85,212.44 337.68,212.37 338.52,212.30 339.36,212.23 340.19,212.16 341.03,212.08 341.86,211.99 342.70,211.91 343.53,211.82 344.37,211.72 345.21,211.62 346.04,211.52 346.88,211.40 347.71,211.29 348.55,211.16 349.39,211.03 350.22,210.89 351.06,210.74 351.89,210.58 352.73,210.40 353.56,210.22 354.40,210.01 355.24,209.79 356.07,209.56 356.91,209.30 357.74,209.01 358.58,208.70 359.42,208.36 360.25,207.98 361.09,207.57 361.92,207.12 362.76,206.62 363.59,206.08 364.43,205.49 365.27,204.84 366.10,204.14 366.94,203.37 367.77,202.54 368.61,201.64 369.45,200.67 370.28,199.63 371.12,198.52 371.95,197.34 372.79,196.09 373.62,194.77 374.46,193.39 375.30,191.95 376.13,190.46 376.97,188.92 377.80,187.34 378.64,185.73 379.48,184.11 380.31,182.48 381.15,180.86 381.98,179.26 382.82,177.69 383.65,176.17 384.49,174.72 385.33,173.35 386.16,172.06 387.00,170.89 387.83,169.82 388.67,168.89 389.51,168.08 390.34,167.42 391.18,166.91 392.01,166.55 392.85,166.33 393.69,166.27 394.52,166.36 395.36,166.59 396.19,166.96 397.03,167.47 397.86,168.10 398.70,168.86 399.54,169.73 400.37,170.70 401.21,171.77 402.04,172.93 402.88,174.16 403.71,175.46 404.55,176.81 405.39,178.21 406.22,179.64 407.06,181.11 407.89,182.58 408.73,184.07 409.57,185.55 410.40,187.01 411.24,188.46 412.07,189.88 412.91,191.27 413.75,192.62 414.58,193.92 415.42,195.17 416.25,196.38 417.09,197.52 417.92,198.61 418.76,199.64 419.60,200.61 420.43,201.53 421.27,202.38 422.10,203.18 422.94,203.92 423.77,204.61 424.61,205.25 425.45,205.84 426.28,206.38 427.12,206.88 427.95,207.34 428.79,207.76 429.63,208.15 430.46,208.50 431.30,208.83 432.13,209.13 432.97,209.40 433.81,209.65 434.64,209.88 435.48,210.09 436.31,210.29 437.15,210.47 437.98,210.64 438.82,210.80 439.66,210.94 440.49,211.08 441.33,211.20 442.16,211.32 443.00,211.44 443.83,211.54 444.67,211.64 445.51,211.74 446.34,211.83 447.18,211.92 448.01,212.00 448.85,212.08 449.69,212.15 450.52,212.23 451.36,212.30 452.19,212.36 453.03,212.43 453.87,212.49 454.70,212.55 455.54,212.60 456.37,212.66 457.21,212.71 458.04,212.76 458.88,212.81 459.72,212.86 460.55,212.90 461.39,212.95 462.22,212.99 463.06,213.03 463.89,213.07 464.73,213.11 465.57,213.14 466.40,213.18 467.24,213.22 468.07,213.25 468.91,213.28 469.75,213.31 470.58,213.34 471.42,213.37 472.25,213.40 473.09,213.43 473.93,213.46 474.76,213.48 475.60,213.51 476.43,213.53 477.27,213.56 478.10,213.58 478.94,213.60 479.78,213.63 480.61,213.65 481.45,213.67 482.28,213.69 483.12,213.71 483.95,213.73 484.79,213.75 485.63,213.76 486.46,213.78 487.30,213.80 488.13,213.81 488.97,213.83 489.81,213.85 490.64,213.86 491.48,213.88 492.31,213.89 493.15,213.91 493.99,213.92 494.82,213.93 495.66,213.95 496.49,213.96 497.33,213.97 498.16,213.98 499.00,214.00"/>
<text x="296.0" y="217.2" font-size="9.7" text-anchor="end">0</text>
<text x="296.0" y="142.9" font-size="9.7" text-anchor="end">2000</text>
<text x="296.0" y="68.6" font-size="9.7" text-anchor="end">4000</text>
<text x="298.4" y="244.1" font-size="9.7" text-anchor="middle">37.5</text>
<text x="365.3" y="244.1" font-size="9.7" text-anchor="middle">38</text>
<text x="432.1" y="244.1" font-size="9.7" text-anchor="middle">38.5</text>
<text x="499.0" y="244.1" font-size="9.7" text-anchor="middle">39</text>
<text x="305.0" y="18.4" font-size="14.6" textLength="54.6" lengthAdjust="spacingAndGlyphs" class="b">2MeV C</text><text x="360.4" y="21.4" font-size="10.0">4</text><text class="ar" transform="translate(378.20 16.70) scale(1.207 1)" font-size="19.0" text-anchor="middle">→</text><text x="389.1" y="18.4" font-size="14.6" textLength="43.5" lengthAdjust="spacingAndGlyphs" class="b">EBCO</text>
<text x="394.8" y="44.4" font-size="12.0">(005) peak</text>
<text x="300.0" y="151.9" font-size="11.9">Before irrad.</text>
<text x="300.0" y="174.0" font-size="11.7">1.0x10<tspan font-size="8.0" dx="2.0" dy="-6.6">14</tspan></text>
<text x="300.0" y="193.0" font-size="11.7">2.0x10<tspan font-size="8.0" dx="2.0" dy="-6.6">14</tspan></text>
<text x="300.0" y="212.0" font-size="11.7">3.0x10<tspan font-size="8.0" dx="2.0" dy="-6.6">14</tspan></text>
<text x="302.3" y="227.0" font-size="10.2">(carbons/cm<tspan font-size="7.2" dy="-5.1">2</tspan><tspan font-size="10.2" dy="5.1">)</tspan></text>
<text class="b" transform="translate(271.6 120.4) rotate(-90)" font-size="15.0" text-anchor="middle" textLength="117.8" lengthAdjust="spacingAndGlyphs">Intensity (counts)</text>
<text class="b" y="258.9" font-size="15.1"><tspan x="359.9">2</tspan><tspan x="370.9" font-style="italic">θ</tspan><tspan x="387.3">(degree)</tspan></text>
<rect class="f" x="166.40" y="286.40" width="219.50" height="225.30"/>
<path class="t" d="M181.03 511.70v-3.08M181.03 286.40v3.08M195.67 511.70v-3.08M195.67 286.40v3.08M210.30 511.70v-3.08M210.30 286.40v3.08M224.93 511.70v-3.08M224.93 286.40v3.08M239.57 511.70v-4.29M239.57 286.40v4.29M254.20 511.70v-3.08M254.20 286.40v3.08M268.83 511.70v-3.08M268.83 286.40v3.08M283.47 511.70v-3.08M283.47 286.40v3.08M298.10 511.70v-3.08M298.10 286.40v3.08M312.73 511.70v-4.29M312.73 286.40v4.29M327.37 511.70v-3.08M327.37 286.40v3.08M342.00 511.70v-3.08M342.00 286.40v3.08M356.63 511.70v-3.08M356.63 286.40v3.08M371.27 511.70v-3.08M371.27 286.40v3.08M166.40 491.30h2.97M385.90 491.30h-2.97M166.40 470.84h1.54M385.90 470.84h-1.54M166.40 450.37h1.54M385.90 450.37h-1.54M166.40 429.91h1.54M385.90 429.91h-1.54M166.40 409.44h2.97M385.90 409.44h-2.97M166.40 388.98h1.54M385.90 388.98h-1.54M166.40 368.51h1.54M385.90 368.51h-1.54M166.40 348.05h1.54M385.90 348.05h-1.54M166.40 327.58h2.97M385.90 327.58h-2.97M166.40 307.12h1.54M385.90 307.12h-1.54"/>
<polyline class="c" points="166.40,409.24 167.31,409.23 168.23,409.22 169.14,409.21 170.06,409.20 170.97,409.19 171.89,409.18 172.80,409.17 173.72,409.16 174.63,409.15 175.55,409.13 176.46,409.12 177.38,409.11 178.29,409.10 179.20,409.08 180.12,409.07 181.03,409.06 181.95,409.04 182.86,409.03 183.78,409.02 184.69,409.00 185.61,408.99 186.52,408.97 187.44,408.95 188.35,408.94 189.26,408.92 190.18,408.90 191.09,408.89 192.01,408.87 192.92,408.85 193.84,408.83 194.75,408.81 195.67,408.79 196.58,408.77 197.50,408.75 198.41,408.73 199.32,408.71 200.24,408.69 201.15,408.66 202.07,408.64 202.98,408.62 203.90,408.59 204.81,408.57 205.73,408.54 206.64,408.51 207.56,408.49 208.47,408.46 209.39,408.43 210.30,408.40 211.21,408.37 212.13,408.34 213.04,408.30 213.96,408.27 214.87,408.23 215.79,408.20 216.70,408.16 217.62,408.13 218.53,408.09 219.45,408.05 220.36,408.01 221.28,407.97 222.19,407.92 223.10,407.88 224.02,407.83 224.93,407.79 225.85,407.74 226.76,407.69 227.68,407.64 228.59,407.58 229.51,407.53 230.42,407.47 231.34,407.41 232.25,407.35 233.16,407.29 234.08,407.23 234.99,407.16 235.91,407.09 236.82,407.02 237.74,406.95 238.65,406.88 239.57,406.80 240.48,406.72 241.40,406.64 242.31,406.56 243.22,406.47 244.14,406.38 245.05,406.29 245.97,406.19 246.88,406.09 247.80,405.99 248.71,405.89 249.63,405.78 250.54,405.66 251.46,405.55 252.37,405.43 253.29,405.31 254.20,405.18 255.11,405.04 256.03,404.91 256.94,404.76 257.86,404.61 258.77,404.45 259.69,404.28 260.60,404.10 261.52,403.90 262.43,403.68 263.35,403.43 264.26,403.15 265.18,402.82 266.09,402.43 267.00,401.97 267.92,401.41 268.83,400.74 269.75,399.93 270.66,398.94 271.58,397.75 272.49,396.32 273.41,394.61 274.32,392.59 275.24,390.21 276.15,387.44 277.06,384.26 277.98,380.65 278.89,376.59 279.81,372.10 280.72,367.19 281.64,361.90 282.55,356.29 283.47,350.43 284.38,344.41 285.30,338.32 286.21,332.29 287.12,326.44 288.04,320.87 288.95,315.71 289.87,311.07 290.78,307.03 291.70,303.66 292.61,301.02 293.53,299.12 294.44,297.98 295.36,297.57 296.27,297.84 297.19,298.75 298.10,300.22 299.01,302.19 299.93,304.57 300.84,307.30 301.76,310.31 302.67,313.54 303.59,316.96 304.50,320.52 305.42,324.20 306.33,327.98 307.25,331.86 308.16,335.81 309.07,339.83 309.99,343.91 310.90,348.03 311.82,352.16 312.73,356.29 313.65,360.37 314.56,364.38 315.48,368.29 316.39,372.05 317.31,375.64 318.22,379.03 319.14,382.18 320.05,385.10 320.96,387.76 321.88,390.16 322.79,392.31 323.71,394.20 324.62,395.86 325.54,397.30 326.45,398.54 327.37,399.60 328.28,400.50 329.20,401.26 330.11,401.90 331.02,402.44 331.94,402.90 332.85,403.28 333.77,403.62 334.68,403.90 335.60,404.15 336.51,404.38 337.43,404.58 338.34,404.76 339.26,404.92 340.17,405.08 341.09,405.23 342.00,405.37 342.91,405.50 343.83,405.63 344.74,405.75 345.66,405.86 346.57,405.98 347.49,406.09 348.40,406.20 349.32,406.30 350.23,406.40 351.15,406.50 352.06,406.59 352.97,406.68 353.89,406.77 354.80,406.86 355.72,406.94 356.63,407.02 357.55,407.10 358.46,407.17 359.38,407.25 360.29,407.32 361.21,407.39 362.12,407.46 363.04,407.52 363.95,407.59 364.86,407.65 365.78,407.71 366.69,407.77 367.61,407.82 368.52,407.88 369.44,407.93 370.35,407.98 371.27,408.03 372.18,408.08 373.10,408.13 374.01,408.18 374.92,408.22 375.84,408.27 376.75,408.31 377.67,408.35 378.58,408.39 379.50,408.43 380.41,408.47 381.33,408.51 382.24,408.55 383.16,408.58 384.07,408.62 384.99,408.65 385.90,408.68"/>
<polyline class="c" points="166.40,450.34 167.31,450.33 168.23,450.32 169.14,450.31 170.06,450.29 170.97,450.28 171.89,450.27 172.80,450.25 173.72,450.24 174.63,450.22 175.55,450.21 176.46,450.19 177.38,450.18 178.29,450.16 179.20,450.15 180.12,450.13 181.03,450.11 181.95,450.10 182.86,450.08 183.78,450.06 184.69,450.04 185.61,450.02 186.52,450.00 187.44,449.98 188.35,449.96 189.26,449.94 190.18,449.92 191.09,449.90 192.01,449.87 192.92,449.85 193.84,449.83 194.75,449.80 195.67,449.78 196.58,449.75 197.50,449.72 198.41,449.70 199.32,449.67 200.24,449.64 201.15,449.61 202.07,449.58 202.98,449.54 203.90,449.51 204.81,449.48 205.73,449.44 206.64,449.41 207.56,449.37 208.47,449.33 209.39,449.29 210.30,449.25 211.21,449.20 212.13,449.16 213.04,449.11 213.96,449.07 214.87,449.02 215.79,448.97 216.70,448.91 217.62,448.86 218.53,448.80 219.45,448.74 220.36,448.68 221.28,448.62 222.19,448.55 223.10,448.48 224.02,448.41 224.93,448.33 225.85,448.26 226.76,448.17 227.68,448.09 228.59,448.00 229.51,447.91 230.42,447.81 231.34,447.71 232.25,447.61 233.16,447.49 234.08,447.38 234.99,447.26 235.91,447.13 236.82,446.99 237.74,446.85 238.65,446.70 239.57,446.54 240.48,446.37 241.40,446.19 242.31,446.00 243.22,445.79 244.14,445.57 245.05,445.33 245.97,445.06 246.88,444.78 247.80,444.47 248.71,444.12 249.63,443.74 250.54,443.32 251.46,442.85 252.37,442.32 253.29,441.73 254.20,441.07 255.11,440.32 256.03,439.48 256.94,438.54 257.86,437.48 258.77,436.29 259.69,434.97 260.60,433.49 261.52,431.85 262.43,430.04 263.35,428.04 264.26,425.86 265.18,423.48 266.09,420.92 267.00,418.16 267.92,415.22 268.83,412.11 269.75,408.85 270.66,405.46 271.58,401.97 272.49,398.40 273.41,394.81 274.32,391.22 275.24,387.71 276.15,384.30 277.06,381.07 277.98,378.07 278.89,375.35 279.81,372.96 280.72,370.96 281.64,369.40 282.55,368.29 283.47,367.66 284.38,367.52 285.30,367.87 286.21,368.70 287.12,369.97 288.04,371.65 288.95,373.70 289.87,376.08 290.78,378.72 291.70,381.59 292.61,384.62 293.53,387.77 294.44,391.01 295.36,394.27 296.27,397.54 297.19,400.77 298.10,403.94 299.01,407.03 299.93,410.01 300.84,412.87 301.76,415.60 302.67,418.19 303.59,420.63 304.50,422.92 305.42,425.06 306.33,427.04 307.25,428.88 308.16,430.58 309.07,432.14 309.99,433.58 310.90,434.89 311.82,436.08 312.73,437.17 313.65,438.16 314.56,439.06 315.48,439.88 316.39,440.62 317.31,441.29 318.22,441.90 319.14,442.45 320.05,442.95 320.96,443.40 321.88,443.81 322.79,444.18 323.71,444.53 324.62,444.84 325.54,445.12 326.45,445.38 327.37,445.63 328.28,445.85 329.20,446.05 330.11,446.24 331.02,446.42 331.94,446.59 332.85,446.74 333.77,446.88 334.68,447.02 335.60,447.15 336.51,447.27 337.43,447.39 338.34,447.49 339.26,447.60 340.17,447.70 341.09,447.79 342.00,447.88 342.91,447.96 343.83,448.05 344.74,448.12 345.66,448.20 346.57,448.27 347.49,448.34 348.40,448.40 349.32,448.47 350.23,448.53 351.15,448.58 352.06,448.64 352.97,448.69 353.89,448.74 354.80,448.79 355.72,448.84 356.63,448.89 357.55,448.93 358.46,448.97 359.38,449.02 360.29,449.05 361.21,449.09 362.12,449.13 363.04,449.17 363.95,449.20 364.86,449.23 365.78,449.27 366.69,449.30 367.61,449.33 368.52,449.36 369.44,449.38 370.35,449.41 371.27,449.44 372.18,449.46 373.10,449.49 374.01,449.51 374.92,449.53 375.84,449.56 376.75,449.58 377.67,449.60 378.58,449.62 379.50,449.64 380.41,449.66 381.33,449.68 382.24,449.70 383.16,449.71 384.07,449.73 384.99,449.75 385.90,449.76"/>
<polyline class="c" points="166.40,470.38 167.31,470.34 168.23,470.30 169.14,470.26 170.06,470.22 170.97,470.18 171.89,470.14 172.80,470.10 173.72,470.05 174.63,470.01 175.55,469.97 176.46,469.92 177.38,469.87 178.29,469.83 179.20,469.78 180.12,469.73 181.03,469.68 181.95,469.63 182.86,469.58 183.78,469.53 184.69,469.48 185.61,469.43 186.52,469.37 187.44,469.32 188.35,469.26 189.26,469.20 190.18,469.15 191.09,469.09 192.01,469.03 192.92,468.97 193.84,468.90 194.75,468.84 195.67,468.78 196.58,468.71 197.50,468.65 198.41,468.58 199.32,468.51 200.24,468.44 201.15,468.37 202.07,468.29 202.98,468.22 203.90,468.14 204.81,468.06 205.73,467.98 206.64,467.90 207.56,467.81 208.47,467.73 209.39,467.64 210.30,467.54 211.21,467.44 212.13,467.34 213.04,467.24 213.96,467.13 214.87,467.01 215.79,466.89 216.70,466.76 217.62,466.63 218.53,466.49 219.45,466.34 220.36,466.18 221.28,466.01 222.19,465.83 223.10,465.64 224.02,465.44 224.93,465.22 225.85,464.99 226.76,464.75 227.68,464.48 228.59,464.20 229.51,463.90 230.42,463.57 231.34,463.23 232.25,462.86 233.16,462.47 234.08,462.05 234.99,461.60 235.91,461.13 236.82,460.63 237.74,460.10 238.65,459.53 239.57,458.94 240.48,458.32 241.40,457.66 242.31,456.98 243.22,456.26 244.14,455.51 245.05,454.74 245.97,453.93 246.88,453.10 247.80,452.24 248.71,451.36 249.63,450.46 250.54,449.54 251.46,448.61 252.37,447.67 253.29,446.71 254.20,445.76 255.11,444.80 256.03,443.85 256.94,442.90 257.86,441.97 258.77,441.06 259.69,440.17 260.60,439.30 261.52,438.47 262.43,437.68 263.35,436.93 264.26,436.22 265.18,435.57 266.09,434.97 267.00,434.42 267.92,433.94 268.83,433.53 269.75,433.18 270.66,432.90 271.58,432.70 272.49,432.56 273.41,432.50 274.32,432.52 275.24,432.61 276.15,432.77 277.06,433.00 277.98,433.30 278.89,433.67 279.81,434.11 280.72,434.61 281.64,435.16 282.55,435.78 283.47,436.44 284.38,437.15 285.30,437.91 286.21,438.70 287.12,439.53 288.04,440.39 288.95,441.27 289.87,442.17 290.78,443.09 291.70,444.02 292.61,444.95 293.53,445.89 294.44,446.82 295.36,447.75 296.27,448.67 297.19,449.58 298.10,450.48 299.01,451.35 299.93,452.21 300.84,453.04 301.76,453.85 302.67,454.64 303.59,455.39 304.50,456.12 305.42,456.82 306.33,457.49 307.25,458.13 308.16,458.75 309.07,459.33 309.99,459.88 310.90,460.41 311.82,460.91 312.73,461.38 313.65,461.82 314.56,462.24 315.48,462.64 316.39,463.01 317.31,463.36 318.22,463.69 319.14,463.99 320.05,464.28 320.96,464.56 321.88,464.81 322.79,465.05 323.71,465.27 324.62,465.48 325.54,465.68 326.45,465.87 327.37,466.05 328.28,466.21 329.20,466.37 330.11,466.52 331.02,466.66 331.94,466.79 332.85,466.92 333.77,467.04 334.68,467.16 335.60,467.27 336.51,467.37 337.43,467.48 338.34,467.57 339.26,467.67 340.17,467.76 341.09,467.85 342.00,467.93 342.91,468.02 343.83,468.10 344.74,468.18 345.66,468.25 346.57,468.33 347.49,468.40 348.40,468.47 349.32,468.55 350.23,468.61 351.15,468.68 352.06,468.75 352.97,468.81 353.89,468.88 354.80,468.94 355.72,469.00 356.63,469.06 357.55,469.12 358.46,469.18 359.38,469.23 360.29,469.29 361.21,469.35 362.12,469.40 363.04,469.45 363.95,469.51 364.86,469.56 365.78,469.61 366.69,469.66 367.61,469.71 368.52,469.76 369.44,469.80 370.35,469.85 371.27,469.90 372.18,469.94 373.10,469.99 374.01,470.03 374.92,470.07 375.84,470.12 376.75,470.16 377.67,470.20 378.58,470.24 379.50,470.28 380.41,470.32 381.33,470.36 382.24,470.40 383.16,470.43 384.07,470.47 384.99,470.51 385.90,470.54"/>
<polyline class="c" points="166.40,490.50 167.31,490.48 168.23,490.45 169.14,490.42 170.06,490.39 170.97,490.36 171.89,490.34 172.80,490.31 173.72,490.28 174.63,490.25 175.55,490.21 176.46,490.18 177.38,490.15 178.29,490.12 179.20,490.09 180.12,490.05 181.03,490.02 181.95,489.98 182.86,489.95 183.78,489.91 184.69,489.88 185.61,489.84 186.52,489.80 187.44,489.76 188.35,489.73 189.26,489.69 190.18,489.65 191.09,489.61 192.01,489.56 192.92,489.52 193.84,489.48 194.75,489.43 195.67,489.39 196.58,489.34 197.50,489.30 198.41,489.25 199.32,489.20 200.24,489.15 201.15,489.09 202.07,489.04 202.98,488.98 203.90,488.92 204.81,488.86 205.73,488.80 206.64,488.73 207.56,488.66 208.47,488.58 209.39,488.51 210.30,488.42 211.21,488.34 212.13,488.24 213.04,488.14 213.96,488.04 214.87,487.93 215.79,487.81 216.70,487.68 217.62,487.54 218.53,487.39 219.45,487.24 220.36,487.07 221.28,486.89 222.19,486.69 223.10,486.49 224.02,486.26 224.93,486.03 225.85,485.77 226.76,485.51 227.68,485.22 228.59,484.91 229.51,484.59 230.42,484.25 231.34,483.88 232.25,483.50 233.16,483.10 234.08,482.68 234.99,482.23 235.91,481.77 236.82,481.29 237.74,480.79 238.65,480.27 239.57,479.74 240.48,479.19 241.40,478.62 242.31,478.04 243.22,477.46 244.14,476.86 245.05,476.26 245.97,475.65 246.88,475.04 247.80,474.43 248.71,473.82 249.63,473.22 250.54,472.63 251.46,472.05 252.37,471.49 253.29,470.95 254.20,470.43 255.11,469.93 256.03,469.46 256.94,469.02 257.86,468.62 258.77,468.25 259.69,467.91 260.60,467.62 261.52,467.37 262.43,467.17 263.35,467.00 264.26,466.89 265.18,466.82 266.09,466.80 267.00,466.83 267.92,466.90 268.83,467.02 269.75,467.18 270.66,467.39 271.58,467.64 272.49,467.94 273.41,468.27 274.32,468.64 275.24,469.05 276.15,469.49 277.06,469.95 277.98,470.45 278.89,470.97 279.81,471.50 280.72,472.06 281.64,472.63 282.55,473.22 283.47,473.81 284.38,474.41 285.30,475.01 286.21,475.61 287.12,476.21 288.04,476.81 288.95,477.40 289.87,477.98 290.78,478.55 291.70,479.11 292.61,479.66 293.53,480.19 294.44,480.70 295.36,481.20 296.27,481.68 297.19,482.15 298.10,482.59 299.01,483.01 299.93,483.42 300.84,483.81 301.76,484.18 302.67,484.52 303.59,484.86 304.50,485.17 305.42,485.47 306.33,485.74 307.25,486.01 308.16,486.26 309.07,486.49 309.99,486.71 310.90,486.91 311.82,487.10 312.73,487.28 313.65,487.45 314.56,487.61 315.48,487.76 316.39,487.90 317.31,488.03 318.22,488.16 319.14,488.27 320.05,488.38 320.96,488.49 321.88,488.58 322.79,488.68 323.71,488.76 324.62,488.85 325.54,488.93 326.45,489.00 327.37,489.08 328.28,489.15 329.20,489.21 330.11,489.28 331.02,489.34 331.94,489.40 332.85,489.46 333.77,489.52 334.68,489.57 335.60,489.62 336.51,489.68 337.43,489.73 338.34,489.78 339.26,489.82 340.17,489.87 341.09,489.92 342.00,489.97 342.91,490.01 343.83,490.05 344.74,490.10 345.66,490.14 346.57,490.18 347.49,490.22 348.40,490.27 349.32,490.31 350.23,490.35 351.15,490.38 352.06,490.42 352.97,490.46 353.89,490.50 354.80,490.54 355.72,490.57 356.63,490.61 357.55,490.64 358.46,490.68 359.38,490.71 360.29,490.75 361.21,490.78 362.12,490.81 363.04,490.85 363.95,490.88 364.86,490.91 365.78,490.94 366.69,490.97 367.61,491.00 368.52,491.03 369.44,491.06 370.35,491.09 371.27,491.12 372.18,491.15 373.10,491.18 374.01,491.21 374.92,491.23 375.84,491.26 376.75,491.29 377.67,491.31 378.58,491.34 379.50,491.36 380.41,491.39 381.33,491.41 382.24,491.44 383.16,491.46 384.07,491.49 384.99,491.51 385.90,491.53"/>
<text x="164.1" y="495.6" font-size="10.8" text-anchor="end">0</text>
<text x="164.1" y="413.7" font-size="10.8" text-anchor="end">2000</text>
<text x="164.1" y="331.9" font-size="10.8" text-anchor="end">4000</text>
<text x="166.4" y="522.9" font-size="10.8" text-anchor="middle">37.5</text>
<text x="239.6" y="522.9" font-size="10.8" text-anchor="middle">38</text>
<text x="312.7" y="522.9" font-size="10.8" text-anchor="middle">38.5</text>
<text x="385.9" y="522.9" font-size="10.8" text-anchor="middle">39</text>
<text x="172.8" y="276.5" font-size="15.8" textLength="59.8" lengthAdjust="spacingAndGlyphs" class="b">4MeV C</text><text x="233.4" y="280.9" font-size="10.8">8</text><text class="ar" transform="translate(254.15 274.60) scale(1.302 1)" font-size="20.5" text-anchor="middle">→</text><text x="266.1" y="276.5" font-size="15.8" textLength="46.8" lengthAdjust="spacingAndGlyphs" class="b">EBCO</text>
<text x="302.6" y="305.4" font-size="13.3">(005) peak</text>
<text x="167.6" y="407.3" font-size="13.3">Before irrad.</text>
<text x="167.0" y="448.0" font-size="13.2">2.0x10<tspan font-size="9.0" dx="0.9" dy="-7.8">14</tspan></text>
<text x="167.0" y="467.6" font-size="13.2">3.0x10<tspan font-size="9.0" dx="0.9" dy="-7.8">14</tspan></text>
<text x="167.0" y="488.0" font-size="13.2">4.0x10<tspan font-size="9.0" dx="0.9" dy="-7.8">14</tspan></text>
<text x="170.7" y="504.6" font-size="11.2">(carbons/cm<tspan font-size="7.8" dy="-5.6">2</tspan><tspan font-size="11.2" dy="5.6">)</tspan></text>
<text class="b" transform="translate(136.1 389.6) rotate(-90)" font-size="16.4" text-anchor="middle" textLength="128.2" lengthAdjust="spacingAndGlyphs">Intensity (counts)</text>
<text class="b" y="540.6" font-size="16.9"><tspan x="233.6">2</tspan><tspan x="246.6" font-style="italic">θ</tspan><tspan x="264.0">(degree)</tspan></text>
</svg>
</body></html>
